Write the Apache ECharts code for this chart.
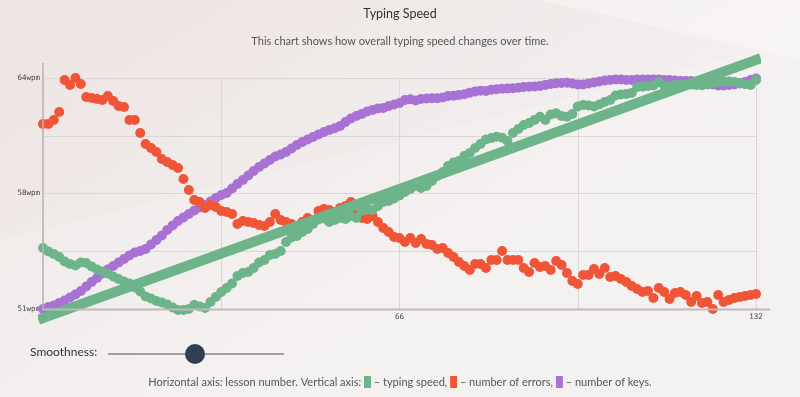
<!DOCTYPE html>
<html>
<head>
<meta charset="utf-8">
<script src="https://cdn.jsdelivr.net/npm/echarts@6/dist/echarts.min.js"></script>
<style>
html,body{margin:0;padding:0;background:#efe9e8;}
#chart{width:800px;height:397px;}
</style>
</head>
<body>
<div id="chart"></div>
<script>
// y scale: 0 = bottom gridline ("51wpm"), 231 = top gridline ("64wpm")
var yTickValues = [0, 115.5, 231];
var yTickLabels = ['51wpm', '58wpm', '64wpm'];
var xTickValues = [66, 132];
var xTickLabels = ['66', '132'];

var errors = [185,185,189,197,229,224,231,225,212,211,210,209,213,208,203,202,189,189,176,165,161,157,150,147,144,141,130,119,109,107,101,104,102,98,97,95,85,88,87,86,84,83,87,95,89,87,85,83,87,91,87,98,100,99,97,101,103,107,97,91,90,93,87,81,77,72,71,67,71,66,70,65,64,60,61,56,52,47,43,39,45,45,41,49,49,58,49,49,49,41,37,46,42,43,39,48,44,36,28,25,34,34,40,35,41,32,33,30,27,23,20,17,18,11,21,17,10,16,17,14,7,13,6,7,0,14,7,9,11,12,13,14,15];

var keys = [0,2,3.5,6,8.5,11.5,14.5,18,22.5,27,31,35.5,39.5,43,46.5,50,53.5,56.5,58,60,64.5,69,73.5,79,83.5,88,91.5,95,98.5,101.5,104,107.5,111,114,116,120.5,125,129,133.5,138,142,145.5,149,152.5,154.5,157,160.5,164,167,169.5,172,174.5,177,179,180.7,183,187,190.5,193,195,197.5,199,200.5,201,203,204.5,206,209,209.7,208.5,210,210.5,210.7,210.7,211.5,213,213.3,214,214.7,216.3,217.5,218.3,218,219.3,219.7,220.2,220.5,220.7,221.3,222,222.3,222.5,223,224,225,225.7,226,226.3,225.5,224.5,224.5,225.5,226.5,227.5,228.5,229,229.5,229.5,229,229,229.5,229.5,229.5,229.5,229.5,229,229,228.5,228,228,228,227.5,227,226,224.5,223.5,223.5,224,224.5,225.5,227,229,230.5];

var speed = [61,57.5,55,52,47.5,45,43.5,46.5,46,42.5,39.5,37.5,35.5,32.5,30,27.5,25.5,21.5,17.5,12.5,10.5,8,6.5,4.5,1.5,-1,-1,0,4,2.5,1,7,12,17,21,25.5,33,36,37,41,46.5,49,54,55,58,67,71.5,73,77,80,85,89.5,90.5,87,89,91,90,93,91,98,100,99,103,107,108,110.5,113.5,117,120,123,121,123,128,133,137,143,146.5,148,153,156,161,165,169.5,171,172.3,171.3,168,176,180,184,186,189,192.3,189,194.5,195.7,193,192.3,195,202.5,204,203.5,202.5,204.5,207,209,213.5,214.5,215,216,222,222.3,223,223.5,227,223.5,222.5,224,224.5,224,224.5,224,223.7,224.5,226,227,227.5,227.5,227,226,224.7,224,229];

var trendLessons = [0, 132];
var trendValues = [-9, 249];

var GREEN = '#6db48b', RED = '#f05537', PURPLE = '#a872d5';

function pairs(vals) { return vals.map(function (v, i) { return [i, v]; }); }

var chart = echarts.init(document.getElementById('chart'), null, {renderer: 'canvas'});

chart.setOption({
  backgroundColor: {
    type: 'linear', x: 0, y: 0, x2: 0.3, y2: 1,
    colorStops: [{offset: 0, color: '#ede4e3'}, {offset: 1, color: '#f3f0ef'}]
  },
  animation: false,
  grid: {left: 43, right: 44, top: 78, bottom: 88, containLabel: false},
  xAxis: {
    type: 'value', min: 0, max: 132, interval: 33,
    axisLine: {show: false}, axisTick: {show: false},
    splitLine: {show: true, lineStyle: {color: '#dcd7d6', width: 1}},
    axisLabel: {
      margin: 4, fontSize: 7.5, color: '#444', fontFamily: 'DejaVu Sans Mono',
      formatter: function (v) { var k = xTickValues.indexOf(v); return k >= 0 ? xTickLabels[k] : ''; }
    }
  },
  yAxis: {
    type: 'value', min: 0, max: 231, interval: 57.75,
    axisLine: {show: false}, axisTick: {show: false},
    splitLine: {show: true, lineStyle: {color: '#dcd7d6', width: 1}},
    axisLabel: {
      margin: 3, fontSize: 7.5, color: '#444', fontFamily: 'DejaVu Sans Mono',
      formatter: function (v) {
        for (var k = 0; k < yTickValues.length; k++) { if (Math.abs(v - yTickValues[k]) < 0.01) return yTickLabels[k]; }
        return '';
      }
    }
  },
  graphic: [
    {type: 'polygon', silent: true, z: -10, shape: {points: [[540, 0], [800, 0], [800, 60]]}, style: {fill: 'rgba(255,255,255,0.3)'}},
    {type: 'polygon', silent: true, z: -10, shape: {points: [[0, 240], [800, 40], [800, 397], [0, 397]]}, style: {fill: 'rgba(255,255,255,0.15)'}},
    {type: 'line', z: 50, shape: {x1: 43, y1: 63, x2: 43, y2: 310}, style: {stroke: '#b9b5b5', lineWidth: 1.5}},
    {type: 'line', z: 50, shape: {x1: 42, y1: 309.5, x2: 770, y2: 309.5}, style: {stroke: '#bdbaba', lineWidth: 2}},
    {type: 'text', left: 'center', top: 7, style: {text: 'Typing Speed', fontSize: 12.5, fontFamily: 'Lato', fill: '#333'}},
    {type: 'text', left: 'center', top: 36, style: {text: 'This chart shows how overall typing speed changes over time.', fontSize: 11, fontFamily: 'Lato', fill: '#555'}},
    {type: 'text', left: 30, top: 346, style: {text: 'Smoothness:', fontSize: 12, fontFamily: 'Lato', fill: '#333'}},
    {type: 'line', shape: {x1: 108, y1: 354, x2: 284, y2: 354}, style: {stroke: '#44505e', lineWidth: 1}},
    {type: 'circle', shape: {cx: 195, cy: 354, r: 10}, style: {fill: '#2f3e50'}},
    {type: 'text', left: 'center', top: 376, style: {
      text: '{t|Horizontal axis: lesson number. Vertical axis: }{g|}{t| – typing speed, }{r|}{t| – number of errors, }{p|}{t| – number of keys.}',
      rich: {
        t: {fontSize: 11, fontFamily: 'Lato', fill: '#555', color: '#555'},
        g: {width: 7, height: 12, backgroundColor: GREEN},
        r: {width: 7, height: 12, backgroundColor: RED},
        p: {width: 7, height: 12, backgroundColor: PURPLE}
      }
    }}
  ],
  series: [
    {type: 'scatter', data: pairs(keys), symbolSize: 10, itemStyle: {color: PURPLE, opacity: 1}, clip: false, z: 2},
    {type: 'scatter', data: pairs(errors), symbolSize: 10, itemStyle: {color: RED, opacity: 1}, clip: false, z: 3},
    {type: 'scatter', data: pairs(speed), symbolSize: 10, itemStyle: {color: GREEN, opacity: 1}, clip: false, z: 4},
    {type: 'line', data: trendLessons.map(function (l, i) { return [l, trendValues[i]]; }), showSymbol: false, symbol: 'none',
      lineStyle: {color: GREEN, width: 10, cap: 'square'}, clip: false, z: 5, silent: true}
  ]
});
</script>
</body>
</html>
